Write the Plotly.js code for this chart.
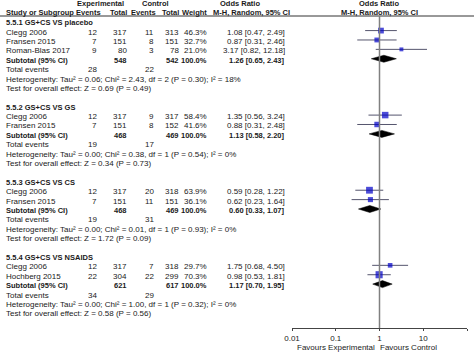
<!DOCTYPE html>
<html><head><meta charset="utf-8">
<script src="https://cdn.plot.ly/plotly-3.0.1.min.js"></script>
<style>html,body{margin:0;padding:0;background:#fff}#chart{width:474px;height:354px}</style>
</head><body><div id="chart"></div>
<script>
// ---- data ----
const groupTitles = ['5.5.1 GS+CS VS placebo','5.5.2 GS+CS VS GS','5.5.3 GS+CS VS CS','5.5.4 GS+CS VS NSAIDS'];
const studyNames = [['Clegg 2006','Fransen 2015','Roman-Blas 2017'],['Clegg 2006','Fransen 2015'],['Clegg 2006','Fransen 2015'],['Clegg 2006','Hochberg 2015']];
const expEvents = [[12,7,9],[12,7],[12,7],[12,22]];
const expTotal  = [[317,151,80],[317,151],[317,151],[317,304]];
const ctlEvents = [[11,8,3],[9,8],[20,11],[7,22]];
const ctlTotal  = [[313,151,78],[317,152],[318,151],[318,299]];
const weights   = [[46.3,32.7,21.0],[58.4,41.6],[63.9,36.1],[29.7,70.3]];
const orEst = [[1.08,0.87,3.17],[1.35,0.88],[0.59,0.62],[1.75,0.98]];
const orLo  = [[0.47,0.31,0.82],[0.56,0.31],[0.28,0.23],[0.68,0.53]];
const orHi  = [[2.49,2.46,12.18],[3.24,2.48],[1.22,1.64],[4.50,1.81]];
const subExpTotal = [548,468,468,621];
const subCtlTotal = [542,469,469,617];
const subOR = [1.26,1.13,0.60,1.17];
const subLo = [0.65,0.58,0.33,0.70];
const subHi = [2.43,2.20,1.07,1.95];
const totExpEvents = [28,19,19,34];
const totCtlEvents = [22,17,31,29];
const hetTau2 = ['0.06','0.00','0.00','0.00'];
const hetChi2 = ['2.43','0.38','0.01','1.00'];
const hetDf = [2,1,1,1];
const hetP = ['0.30','0.54','0.93','0.32'];
const hetI2 = ['18%','0%','0%','0%'];
const testZ = ['0.69','0.34','1.72','0.58'];
const testP = ['0.49','0.73','0.09','0.56'];
const tickVals = [0.01,0.1,1,10,100];
const tickLabels = ['0.01','0.1','1','10','100'];

// ---- layout helpers ----
const FONT = 'Liberation Sans, Arial, sans-serif';
const FS = 8, FSB = 7.5;
const TXT = '#1a1a1a';
const Y0 = 22.7, STEP = 9.39;
const rowY = k => Y0 + k*STEP;
const col = {name:5, expEv:98, expTot:127.5, ctlEv:155, ctlTot:180, weight:208, ci:286};

const ann = [];
function T(x, y, text, anchor, bold){
  ann.push({x:x, y:y, xref:'x', yref:'y', text: bold ? '<b>'+text+'</b>' : text,
    showarrow:false, xanchor:anchor, yanchor:'middle', borderpad:0,
    font:{family:FONT, size: bold ? FSB : FS, color:TXT}});
}
// headers
T(100, 3.5, 'Experimental', 'center', true);
T(155, 3.5, 'Control', 'center', true);
T(240, 3.5, 'Odds Ratio', 'center', true);
T(379, 3.5, 'Odds Ratio', 'center', true);
T(col.name, 12.5, 'Study or Subgroup', 'left', true);
T(102, 12.5, 'Events', 'right', true);
T(127.5, 12.5, 'Total', 'right', true);
T(157, 12.5, 'Events', 'right', true);
T(180, 12.5, 'Total', 'right', true);
T(208, 12.5, 'Weight', 'right', true);
T(251, 12.5, 'M-H, Random, 95% CI', 'center', true);
T(379, 12.5, 'M-H, Random, 95% CI', 'center', true);

const f2 = v => v.toFixed(2);
const sqX=[], sqY=[], sqS=[];
const wx=[], wy=[];
const diamonds=[];
let k = 0;
for (let g=0; g<groupTitles.length; g++){
  T(col.name, rowY(k), groupTitles[g], 'left', true); k++;
  for (let i=0;i<studyNames[g].length;i++){
    const y = rowY(k);
    T(col.name, y, studyNames[g][i], 'left');
    T(col.expEv, y, String(expEvents[g][i]), 'right');
    T(col.expTot, y, String(expTotal[g][i]), 'right');
    T(col.ctlEv, y, String(ctlEvents[g][i]), 'right');
    T(col.ctlTot, y, String(ctlTotal[g][i]), 'right');
    T(col.weight, y, weights[g][i].toFixed(1)+'%', 'right');
    T(col.ci, y, f2(orEst[g][i])+' ['+f2(orLo[g][i])+', '+f2(orHi[g][i])+']', 'right');
    sqX.push(orEst[g][i]); sqY.push(y-1.5); sqS.push(Math.sqrt(weights[g][i])*0.85);
    wx.push(orLo[g][i], orHi[g][i], null); wy.push(y-1.5, y-1.5, null);
    k++;
  }
  let y = rowY(k);
  T(col.name, y, 'Subtotal (95% CI)', 'left', true);
  T(col.expTot, y, String(subExpTotal[g]), 'right', true);
  T(col.ctlTot, y, String(subCtlTotal[g]), 'right', true);
  T(col.weight, y, '100.0%', 'right', true);
  T(col.ci, y, f2(subOR[g])+' ['+f2(subLo[g])+', '+f2(subHi[g])+']', 'right', true);
  diamonds.push({x:[subLo[g], subOR[g], subHi[g], subOR[g], subLo[g]], y:[y-1.5, y-5, y-1.5, y+2, y-1.5]});
  k++;
  y = rowY(k);
  T(col.name, y, 'Total events', 'left');
  T(col.expEv, y, String(totExpEvents[g]), 'right');
  T(col.ctlEv, y, String(totCtlEvents[g]), 'right');
  k++;
  T(col.name, rowY(k), 'Heterogeneity: Tau² = '+hetTau2[g]+'; Chi² = '+hetChi2[g]+', df = '+hetDf[g]+' (P = '+hetP[g]+'); I² = '+hetI2[g], 'left');
  k++;
  T(col.name, rowY(k), 'Test for overall effect: Z = '+testZ[g]+' (P = '+testP[g]+')', 'left');
  k += 2;
}
// favours labels
T(336, 347, 'Favours Experimental', 'center');
T(408, 347, 'Favours Control', 'center');

const traces = [];
traces.push({x:wx, y:wy, xaxis:'x2', yaxis:'y', mode:'lines', line:{color:'#55556e', width:1}, hoverinfo:'skip', showlegend:false});
diamonds.forEach(d => traces.push({x:d.x, y:d.y, xaxis:'x2', yaxis:'y', mode:'lines', fill:'toself', fillcolor:'#000', line:{color:'#000', width:0.5}, hoverinfo:'skip', showlegend:false}));
traces.push({x:sqX, y:sqY, xaxis:'x2', yaxis:'y', mode:'markers', marker:{symbol:'square', size:sqS, color:'#0000c8', line:{width:0}}, hoverinfo:'skip', showlegend:false});
traces.push({x:[0], y:[0], xaxis:'x', yaxis:'y', mode:'markers', marker:{opacity:0}, hoverinfo:'skip', showlegend:false});

const W=474, H=354, AX_L=292, AX_R=467, AX_Y=328;
const layout = {
  width:W, height:H, margin:{l:0,r:0,t:0,b:0}, paper_bgcolor:'#fff', plot_bgcolor:'rgba(0,0,0,0)',
  showlegend:false,
  xaxis:{range:[0,W], domain:[0,1], visible:false, fixedrange:true},
  yaxis:{range:[H,0], domain:[0,1], visible:false, fixedrange:true},
  xaxis2:{type:'log', range:[-2,2], domain:[AX_L/W, AX_R/W], anchor:'free', position:(H-AX_Y)/H,
    showgrid:false, zeroline:false, showline:true, linecolor:'#444', linewidth:1,
    ticks:'outside', ticklen:2, tickcolor:'#444', tickwidth:1, ticklabelstandoff:0,
    tickvals:tickVals, ticktext:tickLabels, tickfont:{family:FONT, size:FS, color:TXT}},
  shapes:[
    {type:'line', xref:'paper', yref:'y', x0:0, x1:1, y0:16, y1:16, line:{color:'#333', width:1}},
    {type:'line', xref:'x2', yref:'y', x0:1, x1:1, y0:16, y1:AX_Y, line:{color:'#808080', width:1.5}}
  ],
  annotations: ann
};
Plotly.newPlot('chart', traces, layout, {staticPlot:true, displayModeBar:false});
</script></body></html>
